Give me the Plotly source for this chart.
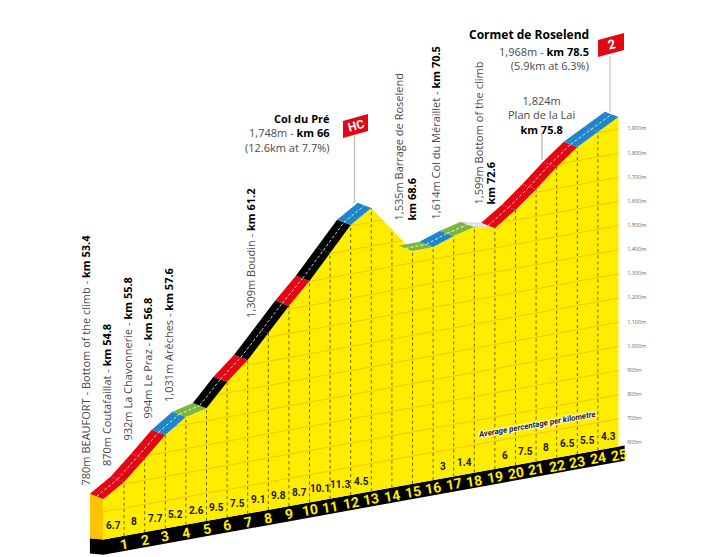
import numpy as np
import plotly.graph_objects as go

# ---- data ----
km_marks = list(range(26))
elevation = [753, 808, 888, 972, 1031, 1052, 1145, 1221, 1317, 1414, 1502, 1602, 1703,
             1758, 1655, 1549, 1550, 1580, 1602, 1582, 1642, 1712, 1789, 1856, 1903, 1950]
segment_colour = ["red", "red", "red", "blue", "green", "black", "red", "black", "black", "red",
                  "black", "black", "blue", None, None, "green", "blue", "green", "grey",
                  "red", "red", "red", "red", "blue", "blue"]
gradient_labels = ["6.7", "8", "7.7", "5.2", "2.6", "9.5", "7.5", "9.1", "9.8", "8.7", "10.1", "11.3",
                   "4.5", "", "", "", "3", "1.4", "", "6", "7.5", "8", "6.5", "5.5", "4.3"]
tick_levels = [600, 700, 800, 900, 1000, 1100, 1200, 1300, 1400, 1500, 1600, 1700, 1800, 1900]
tick_labels = ["600m", "700m", "800m", "900m", "1,000m", "1,100m", "1,200m", "1,300m",
               "1,400m", "1,500m", "1,600m", "1,700m", "1,800m", "1,900m"]

# ---- picture geometry ----
W, H = 720, 557
PX_PER_KM, PX_LEFT = 20.6, 103.5
PX_PER_M, PX_600 = 0.2415, 443.0
TILT = 15.4            # metres of apparent drop per km going left
BASE, BAND = 585, 522  # apparent levels of the base and bottom of the black band

COLOURS = {"red": "#e30613", "blue": "#1f86c9", "green": "#7cb642", "black": "#000000", "grey": "#dcdcdc"}
YELLOW, ORANGE, GRID = "#ffed00", "#fdc300", "#f6c40a"
NUM_FONT = "Roboto"


def tilt(k, e):
    return np.asarray(e, float) - TILT * (25 - np.asarray(k, float))


def px(x):
    return x / W


def py(y):
    return 1 - y / H


km = np.array(km_marks, float)
ele = np.array(elevation, float)
fig = go.Figure()


def poly(xs, ys, colour):
    fig.add_trace(go.Scatter(x=xs, y=ys, mode="lines", fill="toself", fillcolor=colour,
                             line=dict(width=0), hoverinfo="skip", showlegend=False))


def line(xs, ys, colour, width=1, dash="solid"):
    fig.add_trace(go.Scatter(x=xs, y=ys, mode="lines", line=dict(color=colour, width=width, dash=dash),
                             hoverinfo="skip", showlegend=False, connectgaps=False))


BACK_K, BACK_UP = 0.66, 22.0

# black band
bk = np.array([0, 25.3, 25.3, 0, -BACK_K, -BACK_K])
poly(bk, np.r_[tilt([0, 25.3], BASE), tilt([25.3, 0], BAND), tilt(-BACK_K, BAND + 16), tilt(-BACK_K, BASE + 16)], "#000000")

# orange side face
poly([0, -BACK_K, -BACK_K, 0],
     [tilt(0, ele[0]), tilt(0, ele[0]) + BACK_UP, tilt(-BACK_K, BASE + 16), tilt(0, BASE)], ORANGE)

# yellow face
poly(np.r_[km, 25, 0], np.r_[tilt(km, ele), tilt(25, BASE), tilt(0, BASE)], YELLOW)

# grid lines, only under the profile
fine = np.linspace(0, 25, 1001)
profile = np.interp(fine, km, ele)
for lvl in tick_levels[1:]:
    g = np.where(profile >= lvl, tilt(fine, lvl), np.nan)
    line(fine, g, GRID, 1)

# dashed kilometre lines
for k in km_marks[1:-1]:
    line([k, k], [tilt(k, BASE), tilt(k, ele[k])], "#6b6300", 1, "3px,3px")

# ribbon on top of the profile
for i, name in enumerate(segment_colour):
    if name is None:
        continue
    k0, k1 = km[i], km[i + 1]
    y0, y1 = tilt(k0, ele[i]), tilt(k1, ele[i + 1])
    poly([k0, k1, k1 - BACK_K, k0 - BACK_K], [y0, y1, y1 + BACK_UP, y0 + BACK_UP], COLOURS[name])
    line([k0 - BACK_K / 2, k1 - BACK_K / 2], [y0 + BACK_UP / 2, y1 + BACK_UP / 2], "#ffffff", 0.8, "3px,2px")

# right-hand elevation labels
fig.add_trace(go.Scatter(x=[25.42] * len(tick_levels), y=tick_levels, mode="text", text=tick_labels,
                         textposition="middle right", hoverinfo="skip", showlegend=False,
                         textfont=dict(family="Open Sans", size=5.5, color="#666666")))

# kilometre numbers and gradients
for k in km_marks[1:]:
    fig.add_annotation(x=k, y=float(tilt(k, BASE)) - 33, text=f"<b>{k}</b>", showarrow=False, textangle=-10,
                       font=dict(family=NUM_FONT, size=14, color=YELLOW))
for i, label in enumerate(gradient_labels):
    if label:
        fig.add_annotation(x=i + 0.5, y=float(tilt(i + 0.5, BASE)) + 50, text=f"<b>{label}</b>", showarrow=False,
                           font=dict(family=NUM_FONT, size=10, color="#1a1a1a"))

TXT = "#4a4a4a"


def note(x, y, text, angle=0, xa="center", ya="middle", size=11, align="center", colour=TXT, family="Open Sans", shadow=None):
    font = dict(family=family, size=size, color=colour)
    if shadow:
        font["shadow"] = shadow
    fig.add_annotation(xref="paper", yref="paper", x=px(x), y=py(y), text=text, showarrow=False, textangle=angle,
                       xanchor=xa, yanchor=ya, align=align, font=font)


BOLD = '<b style="color:#000">%s</b>'
note(85, 488, "780m BEAUFORT - Bottom of the climb - " + BOLD % "km 53.4", -90, ya="bottom")
note(106, 468, "870m Coutafaillat - " + BOLD % "km 54.8", -90, ya="bottom")
note(127, 443, "932m La Chavonnerie - " + BOLD % "km 55.8", -90, ya="bottom")
note(147, 421, "994m Le Praz - " + BOLD % "km 56.8", -90, ya="bottom")
note(168, 404, "1,031m Arêches - " + BOLD % "km 57.6", -90, ya="bottom")
note(250, 320, "1,309m Boudin - " + BOLD % "km 61.2", -90, ya="bottom")
note(398, 223, "1,535m Barrage de Roselend", -90, ya="bottom")
note(411, 223, BOLD % "km 68.6", -90, ya="bottom")
note(435, 222, "1,614m Col du Méraillet - " + BOLD % "km 70.5", -90, ya="bottom")
note(478, 207, "1,599m Bottom of the climb", -90, ya="bottom")
note(490, 207, BOLD % "km 72.6", -90, ya="bottom")

note(541, 114.5, "1,824m<br>Plan de la Lai<br>" + BOLD % "km 75.8")

note(332, 133, BOLD % "Col du Pré" + "<br>1,748m - " + BOLD % "km 66" + "<br>(12.6km at 7.7%)", xa="right", align="right")
note(591, 34.5, BOLD % "Cormet de Roselend", xa="right", align="right", size=12)
note(591, 58.5, "1,968m - " + BOLD % "km 78.5" + "<br>(5.9km at 6.3%)", xa="right", align="right")

note(537, 424, "<b><i>Average percentage per kilometre</i></b>", -10, size=8, colour="#222222",
     family=NUM_FONT, shadow="1px 1px 1px #fff, -1px -1px 1px #fff, 1px -1px 1px #fff, -1px 1px 1px #fff")


def seg(x0, y0, x1, y1, colour, width):
    return dict(type="line", xref="paper", yref="paper", x0=px(x0), x1=px(x1), y0=py(y0), y1=py(y1),
                line=dict(color=colour, width=width), layer="above")


def flag(pts):
    p = "M" + " L".join(f"{px(a):.4f},{py(b):.4f}" for a, b in pts) + " Z"
    return dict(type="path", xref="paper", yref="paper", path=p, fillcolor="#e30613", line=dict(width=0), layer="above")


shapes = [
    seg(354.5, 136, 354.5, 203, "#c4c4c4", 1.5),
    seg(610, 56, 610, 112, "#b5b5b5", 1),
    seg(542, 133, 542, 160, "#a0a0a0", 1),
    flag([(343, 121), (368, 114), (368, 131), (343, 138)]),
    flag([(598, 40), (624, 33), (624, 50), (598, 57)]),
]
note(355.5, 126, "<b>HC</b>", -15, size=12, colour="#ffffff", family=NUM_FONT)
note(611, 45, "<b>2</b>", -15, size=13, colour="#ffffff", family=NUM_FONT)

fig.update_layout(
    width=W, height=H, margin=dict(l=0, r=0, t=0, b=0), paper_bgcolor="#ffffff", plot_bgcolor="#ffffff",
    showlegend=False, shapes=shapes,
    xaxis=dict(range=[-PX_LEFT / PX_PER_KM, (W - PX_LEFT) / PX_PER_KM], visible=False, fixedrange=True),
    yaxis=dict(range=[600 - (H - PX_600) / PX_PER_M, 600 + PX_600 / PX_PER_M], visible=False, fixedrange=True),
)
fig.write_html("out.html", post_script="document.body.style.margin='0';", config=dict(displayModeBar=False))
